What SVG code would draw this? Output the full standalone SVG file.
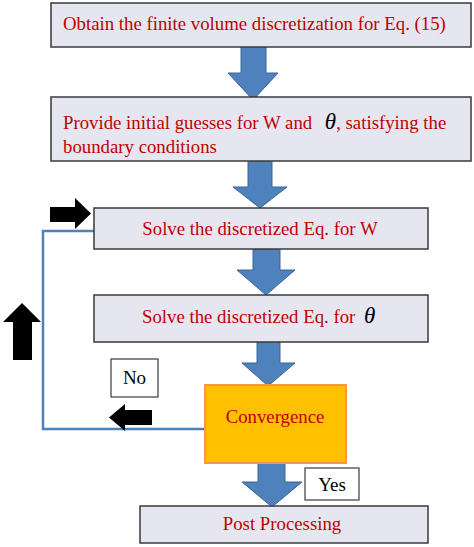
<svg xmlns="http://www.w3.org/2000/svg" width="474" height="547" viewBox="0 0 474 547">
<defs>
<style>
.box{fill:#E6E6F1;stroke:#3a3a3a;stroke-width:1.5}
.t{font-family:"Liberation Serif","Times New Roman",serif;fill:#C00000;font-size:18.8px}
.tc{text-anchor:middle}
.th{font-style:italic;fill:#000;font-size:23px}
.blk{font-family:"Liberation Serif","Times New Roman",serif;fill:#000;font-size:19px;text-anchor:middle}
.lbl{fill:#fff;stroke:#3a3a3a;stroke-width:1.2}
.barrow{fill:#4F81BD;stroke:#3B6496;stroke-width:1}
.kar{fill:#000}
.line{fill:none;stroke:#4F81BD;stroke-width:2.5}
</style>
</defs>
<rect width="474" height="547" fill="#fff"/>
<g id="connectors">
<path class="line" d="M94,231 H43 V429 H205"/>
<polygon class="barrow" points="241,46 266,46 266,73 278,73 253,100 228,73 241,73"/>
<polygon class="barrow" points="248,161 272,161 272,187 287,187 260,208 233,187 248,187"/>
<polygon class="barrow" points="253,249 280,249 280,270 295,270 266,295 237,270 253,270"/>
<polygon class="barrow" points="257,342 280,342 280,363 295,363 268,386 242,363 257,363"/>
<polygon class="barrow" points="258,463 285,463 285,482 302,482 272,507 242,482 258,482"/>
<polygon class="kar" points="50,207 75,207 75,198 91,213.5 75,229 75,222 50,222"/>
<polygon class="kar" points="13,360 13,322 3,322 22,303 41,322 32,322 32,360"/>
<polygon class="kar" points="152,410 125,410 125,404 109,417.5 125,431 125,425 152,425"/>
</g>
<g id="n1">
<rect class="box" x="51" y="3" width="420" height="44"/>
<text class="t" x="63" y="30">Obtain the finite volume discretization for Eq. (15)</text>
</g>
<g id="n2">
<rect class="box" x="51" y="97" width="420" height="64"/>
<text class="t" x="63" y="129">Provide initial guesses for W and <tspan class="th" dx="8">θ</tspan>, satisfying the</text>
<text class="t" x="63" y="153">boundary conditions</text>
</g>
<g id="n3">
<rect class="box" x="94" y="208" width="334" height="41"/>
<text class="t tc" x="260" y="235">Solve the discretized Eq. for W</text>
</g>
<g id="n4">
<rect class="box" x="94" y="295" width="334" height="47"/>
<text class="t" x="142" y="323">Solve the discretized Eq. for <tspan class="th" dx="4">θ</tspan></text>
</g>
<g id="n5">
<rect x="205" y="385" width="141" height="78" fill="#FFC000" stroke="#F79646" stroke-width="2"/>
<text class="t tc" x="275" y="423">Convergence</text>
</g>
<g id="n6">
<rect class="box" x="140" y="506" width="288" height="37"/>
<text class="t tc" x="282" y="530">Post Processing</text>
</g>
<g id="lblNo">
<rect class="lbl" x="111" y="359" width="47" height="38"/>
<text class="blk" x="134.5" y="384">No</text>
</g>
<g id="lblYes">
<rect class="lbl" x="305" y="468" width="54" height="32"/>
<text class="blk" x="332" y="491">Yes</text>
</g>
</svg>
